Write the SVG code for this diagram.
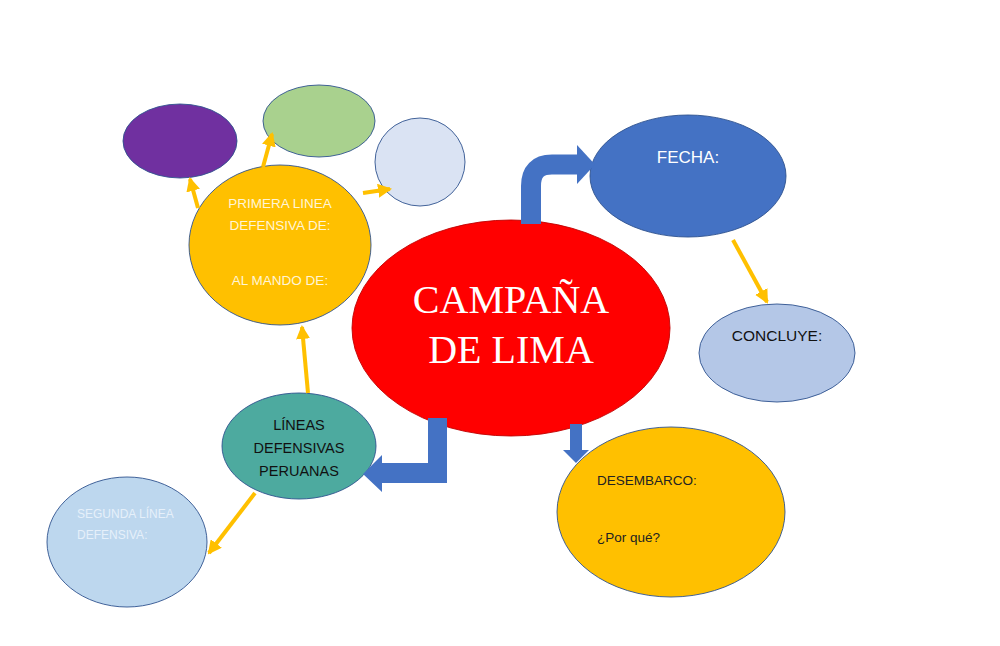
<svg xmlns="http://www.w3.org/2000/svg" width="1000" height="646" viewBox="0 0 1000 646">
<style>
.n{stroke:#2F528F;stroke-width:0.9}
.t{font-family:"Liberation Sans",Arial,sans-serif}
.y{stroke:#FFC000;stroke-width:4;fill:none;marker-end:url(#ah)}
.b{fill:#4472C4}
</style>
<defs>
<marker id="ah" markerUnits="userSpaceOnUse" markerWidth="14" markerHeight="14" viewBox="0 0 14 14" refX="12" refY="7" orient="auto">
<path d="M0,0 L14,7 L0,14 Z" fill="#FFC000"/>
</marker>
</defs>
<rect width="1000" height="646" fill="#ffffff"/>
<g id="n-purple"><ellipse class="n" cx="180" cy="141" rx="57" ry="37" fill="#7030A0"/></g>
<g id="n-green"><ellipse class="n" cx="319" cy="121" rx="56" ry="36" fill="#A9D18E"/></g>
<g id="n-lightblue"><ellipse class="n" cx="420" cy="162" rx="45" ry="44" fill="#DAE3F3"/></g>
<g id="n-primera"><ellipse class="n" cx="280" cy="245" rx="91" ry="80" fill="#FFC000"/>
<text class="t" font-size="13.5" fill="#FFF5D6" text-anchor="middle"><tspan x="280" y="208">PRIMERA LINEA</tspan><tspan x="280" y="230">DEFENSIVA DE:</tspan><tspan x="280" y="285">AL MANDO DE:</tspan></text></g>
<g id="n-campana"><ellipse cx="511" cy="328" rx="159" ry="108" fill="#FF0000" stroke="#C00000" stroke-width="0.9"/>
<text font-family="'Liberation Serif','Times New Roman',serif" font-size="40" fill="#ffffff" text-anchor="middle"><tspan x="511" y="313">CAMPAÑA</tspan><tspan x="511" y="363">DE LIMA</tspan></text></g>
<g id="n-fecha"><ellipse class="n" cx="688" cy="176" rx="98" ry="61" fill="#4472C4"/>
<text class="t" font-size="17" fill="#ffffff" text-anchor="middle" x="688" y="163">FECHA:</text></g>
<g id="n-concluye"><ellipse class="n" cx="777" cy="353" rx="78" ry="49" fill="#B4C7E7"/>
<text class="t" font-size="15.5" fill="#111111" text-anchor="middle" x="777" y="341">CONCLUYE:</text></g>
<g id="n-desembarco"><ellipse class="n" cx="671" cy="512" rx="114" ry="85" fill="#FFC000"/>
<text class="t" font-size="13.5" fill="#222222"><tspan x="597" y="485">DESEMBARCO:</tspan><tspan x="597" y="542">¿Por qué?</tspan></text></g>
<g id="n-lineas"><ellipse class="n" cx="299" cy="446" rx="77" ry="53" fill="#4DAA9F"/>
<text class="t" font-size="14.5" fill="#111111" text-anchor="middle"><tspan x="299" y="430">LÍNEAS</tspan><tspan x="299" y="453">DEFENSIVAS</tspan><tspan x="299" y="476">PERUANAS</tspan></text></g>
<g id="n-segunda"><ellipse class="n" cx="127" cy="542" rx="80" ry="65" fill="#BDD7EE"/>
<text class="t" font-size="12" fill="#E6F0FA"><tspan x="77" y="518">SEGUNDA LÍNEA</tspan><tspan x="77" y="539">DEFENSIVA:</tspan></text></g>
<g id="connectors">
<path d="M531,224 V186 Q531,164.5 552,164.5 H579" fill="none" stroke="#4472C4" stroke-width="20"/>
<polygon class="b" points="577,145 595,164.5 577,184"/>
<polygon class="b" points="428,418 447,418 447,483 382,483 382,492 363,474 382,455 382,463 428,463"/>
<rect class="b" x="570" y="424" width="12" height="27"/>
<polygon class="b" points="563,450 589,450 576,463"/>
<line class="y" x1="198" y1="208" x2="190" y2="179"/>
<line class="y" x1="263" y1="167" x2="272" y2="134"/>
<line class="y" x1="363" y1="193" x2="390" y2="189"/>
<line class="y" x1="308" y1="393" x2="302" y2="327"/>
<line class="y" x1="733" y1="240" x2="767" y2="302"/>
<line class="y" x1="255" y1="493" x2="209" y2="553"/>
</g>
</svg>
